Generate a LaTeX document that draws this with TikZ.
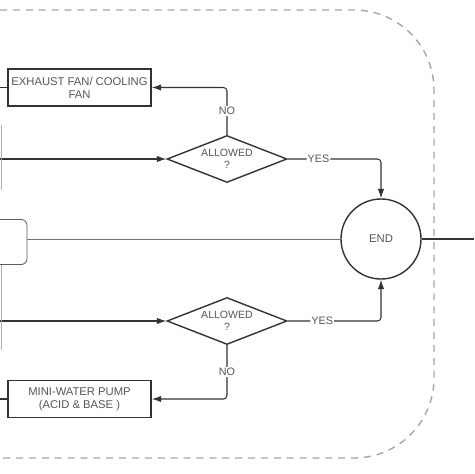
\documentclass[tikz,border=0pt]{standalone}
\usepackage{fontspec}
\setmainfont{Liberation Sans}
\usetikzlibrary{arrows.meta,shapes.geometric}
\definecolor{lineclr}{HTML}{333333}
\definecolor{txtclr}{HTML}{555555}
\tikzset{
  actbox/.style={draw=lineclr,line width=1.4pt,minimum width=4.29cm,minimum height=1.12cm,
    align=center,text=txtclr,font=\fontsize{9.6}{11}\selectfont,inner sep=0pt},
  askbox/.style={diamond,aspect=2.55,draw=lineclr,line width=1.2pt,minimum width=3.6cm,
    minimum height=1.41cm,align=center,text=txtclr,font=\fontsize{9}{10}\selectfont,inner sep=0pt},
  endbox/.style={circle,draw=lineclr,line width=1.2pt,minimum size=2.4cm,
    text=txtclr,font=\fontsize{9.6}{11}\selectfont},
  lbl/.style={fill=white,text=txtclr,font=\fontsize{9.2}{11}\selectfont,inner sep=1pt},
  flow/.style={draw=lineclr,line width=0.9pt,-{Latex[length=8pt,width=5.5pt]},rounded corners=3pt}
}
\begin{document}
\begin{tikzpicture}[x=0.03cm,y=-0.03cm]
  \useasboundingbox (0,0) rectangle (474,474);
  \clip (0,0) rectangle (474,474);
  % dashed frame
  \draw[gray!70,line width=1.2pt,dash pattern=on 6pt off 5pt,rounded corners=2.4cm]
    (0,10) -- (434,10) -- (434,458) -- (0,458);
  % nodes
  \node[actbox] (fan) at (79.5,87.5) {EXHAUST FAN/ COOLING\\FAN};
  \node[askbox] (ask1) at (227,159) {ALLOWED\\?};
  \node[endbox] (done) at (381,239) {END};
  \node[draw=lineclr!80,line width=0.7pt,rounded corners=5pt,minimum width=1.62cm,
    minimum height=1.35cm] (prev) at (0,242) {};
  \node[askbox] (ask2) at (227,321) {ALLOWED\\?};
  \node[actbox] (pump) at (79.5,399) {MINI-WATER PUMP\\(ACID \& BASE )};
  \coordinate (in1) at (0,159);
  \coordinate (in2) at (0,321);
  \coordinate (fanL) at (0,87.5);
  \coordinate (pumpL) at (0,399);
  \coordinate (outR) at (474,239);
  % connectors
  \draw[flow] (in1) -- (ask1.west);
  \draw[flow] (in2) -- (ask2.west);
  \draw[flow] (ask1.north) -- node[lbl,pos=0.5] {NO} (ask1.north |- fan.east) -- (fan.east);
  \draw[flow] (ask2.south) -- node[lbl,pos=0.5] {NO} (ask2.south |- pump.east) -- (pump.east);
  \draw[flow] (ask1.east) -- node[lbl,pos=0.33] {YES} (ask1.east -| done.north) -- (done.north);
  \draw[flow] (ask2.east) -- node[lbl,pos=0.37] {YES} (ask2.east -| done.south) -- (done.south);
  \draw[lineclr!70,line width=0.5pt] (prev.east |- done.west) -- (done.west);
  \draw[lineclr,line width=0.9pt] (done.east) -- (outR);
  \draw[lineclr,line width=0.9pt] (fanL) -- (fan.west);
  \draw[lineclr,line width=0.9pt] (pumpL) -- (pump.west);
  \draw[lineclr!40,line width=0.6pt] (1,125) -- (1,190) (1,265) -- (1,350);
\end{tikzpicture}
\end{document}
